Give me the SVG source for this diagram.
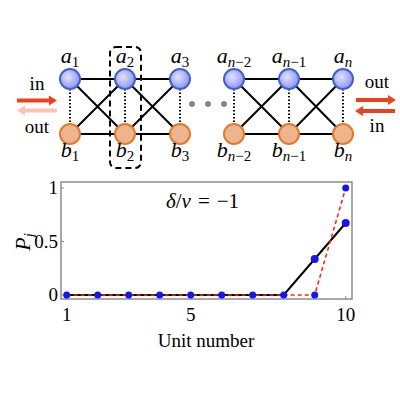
<svg xmlns="http://www.w3.org/2000/svg" width="400" height="400" viewBox="0 0 400 400">
<defs>
<radialGradient id="gb" cx="0.4" cy="0.4" r="0.65">
<stop offset="0" stop-color="#e2e2ff"/>
<stop offset="1" stop-color="#8a8ff2"/>
</radialGradient>
<style>
.na{fill:url(#gb);stroke:#3d62cf;stroke-width:2}
.nb{fill:#ecb58d;stroke:#e07a2c;stroke-width:2}
.e{stroke:#000;stroke-width:2;fill:none}
.d{stroke:#000;stroke-width:2;stroke-dasharray:1.5 2;fill:none}
.lb{font-family:"Liberation Serif",serif;font-style:italic;font-size:22px;fill:#000}
.sb{font-size:15px}
.up{font-style:normal}
.t{font-family:"Liberation Serif",serif;font-size:19px;fill:#000}
.tk{font-family:"Liberation Serif",serif;font-size:19px;fill:#000}
.pt{fill:#1414f5}
</style>
</defs>
<rect width="400" height="400" fill="#fff"/>

<!-- connectors -->
<g id="connectors">
<path class="e" d="M70 79H180M70 134H180M70 79L125 134M70 134L125 79M125 79L180 134M125 134L180 79"/>
<path class="e" d="M234 79H343M234 134H343M234 79L289 134M234 134L289 79M289 79L343 134M289 134L343 79"/>
<path class="d" d="M70 89V124M125 89V124M180 89V124M234 89V124M289 89V124M343 89V124"/>
<rect x="110" y="47" width="31" height="121" rx="6" fill="none" stroke="#000" stroke-width="2" stroke-dasharray="6 4"/>
</g>

<!-- nodes -->
<g id="a1"><circle class="na" cx="70" cy="79" r="10"/><text class="lb" x="70" y="63" text-anchor="middle">a<tspan class="sb up" dy="4">1</tspan></text></g>
<g id="a2"><circle class="na" cx="125" cy="79" r="10"/><text class="lb" x="125" y="63" text-anchor="middle">a<tspan class="sb up" dy="4">2</tspan></text></g>
<g id="a3"><circle class="na" cx="180" cy="79" r="10"/><text class="lb" x="180" y="63" text-anchor="middle">a<tspan class="sb up" dy="4">3</tspan></text></g>
<g id="an2"><circle class="na" cx="234" cy="79" r="10"/><text class="lb" x="234" y="63" text-anchor="middle">a<tspan class="sb" dy="4">n</tspan><tspan class="sb up">−2</tspan></text></g>
<g id="an1"><circle class="na" cx="289" cy="79" r="10"/><text class="lb" x="289" y="63" text-anchor="middle">a<tspan class="sb" dy="4">n</tspan><tspan class="sb up">−1</tspan></text></g>
<g id="an"><circle class="na" cx="343" cy="79" r="10"/><text class="lb" x="343" y="63" text-anchor="middle">a<tspan class="sb" dy="4">n</tspan></text></g>

<g id="b1"><circle class="nb" cx="70" cy="134" r="10"/><text class="lb" x="70" y="157" text-anchor="middle">b<tspan class="sb up" dy="4">1</tspan></text></g>
<g id="b2"><circle class="nb" cx="125" cy="134" r="10"/><text class="lb" x="125" y="157" text-anchor="middle">b<tspan class="sb up" dy="4">2</tspan></text></g>
<g id="b3"><circle class="nb" cx="180" cy="134" r="10"/><text class="lb" x="180" y="157" text-anchor="middle">b<tspan class="sb up" dy="4">3</tspan></text></g>
<g id="bn2"><circle class="nb" cx="234" cy="134" r="10"/><text class="lb" x="234" y="157" text-anchor="middle">b<tspan class="sb" dy="4">n</tspan><tspan class="sb up">−2</tspan></text></g>
<g id="bn1"><circle class="nb" cx="289" cy="134" r="10"/><text class="lb" x="289" y="157" text-anchor="middle">b<tspan class="sb" dy="4">n</tspan><tspan class="sb up">−1</tspan></text></g>
<g id="bn"><circle class="nb" cx="343" cy="134" r="10"/><text class="lb" x="343" y="157" text-anchor="middle">b<tspan class="sb" dy="4">n</tspan></text></g>

<!-- ellipsis dots -->
<g fill="#8a8a8a"><circle cx="192" cy="104" r="3"/><circle cx="208" cy="104" r="3"/><circle cx="224" cy="104" r="3"/></g>

<!-- in/out arrows -->
<g id="io-left">
<text class="t" x="37" y="90" text-anchor="middle">in</text>
<text class="t" x="37" y="133" text-anchor="middle">out</text>
<path d="M17 98.5H49V95.5L57 100.5L49 105.5V102.5H17Z" fill="#e8421e"/>
<path d="M57 108.5H25V105.5L17 110.5L25 115.5V112.5H57Z" fill="#f9c3b6"/>
</g>
<g id="io-right">
<text class="t" x="377" y="88" text-anchor="middle">out</text>
<text class="t" x="377" y="132" text-anchor="middle">in</text>
<path d="M356 98H388V95L396 100L388 105V102H356Z" fill="#e8421e"/>
<path d="M395 109H363V106L355 111L363 116V113H395Z" fill="#e8421e"/>
</g>

<!-- plot -->
<g id="plot">
<rect x="61" y="182" width="291" height="117" fill="none" stroke="#8c8c8c" stroke-width="1.5"/>
<path d="M66.7 299v-3M190.7 299v-3M345.7 299v-3M61 295h3M61 241.5h3M61 188h3" stroke="#8c8c8c" stroke-width="1"/>
<text class="tk" x="58" y="194" text-anchor="end">1</text>
<text class="tk" x="58" y="248" text-anchor="end">0.5</text>
<text class="tk" x="58" y="301" text-anchor="end">0</text>
<text class="tk" x="66.7" y="321" text-anchor="middle">1</text>
<text class="tk" x="190.7" y="321" text-anchor="middle">5</text>
<text class="tk" x="345.7" y="321" text-anchor="middle">10</text>
<text class="t" x="206" y="347" text-anchor="middle" font-size="20">Unit number</text>
<text transform="translate(30 242) rotate(-90)" class="lb" text-anchor="middle">P<tspan class="sb" dy="4">j</tspan></text>
<text x="166" y="208" font-family="Liberation Serif,serif" font-size="21" fill="#000"><tspan font-style="italic">δ</tspan>/<tspan font-style="italic">v</tspan><tspan dx="7">=</tspan><tspan dx="7">−1</tspan></text>
<polyline points="66.7,295 283.7,295 314.7,259 345.7,223" fill="none" stroke="#000" stroke-width="2"/>
<polyline points="66.7,295 314.7,295 345.7,188" fill="none" stroke="#ff2a0a" stroke-width="1.6" stroke-dasharray="4 3"/>
<g class="pt">
<circle cx="66.7" cy="295" r="3.5"/><circle cx="97.7" cy="295" r="3.5"/><circle cx="128.7" cy="295" r="3.5"/><circle cx="159.7" cy="295" r="3.5"/><circle cx="190.7" cy="295" r="3.5"/><circle cx="221.7" cy="295" r="3.5"/><circle cx="252.7" cy="295" r="3.5"/><circle cx="283.7" cy="295" r="3.5"/><circle cx="314.7" cy="295" r="3.5"/>
<circle cx="314.7" cy="259" r="4"/><circle cx="345.7" cy="223" r="4"/><circle cx="345.7" cy="188" r="3.5"/>
</g>
</g>
</svg>
